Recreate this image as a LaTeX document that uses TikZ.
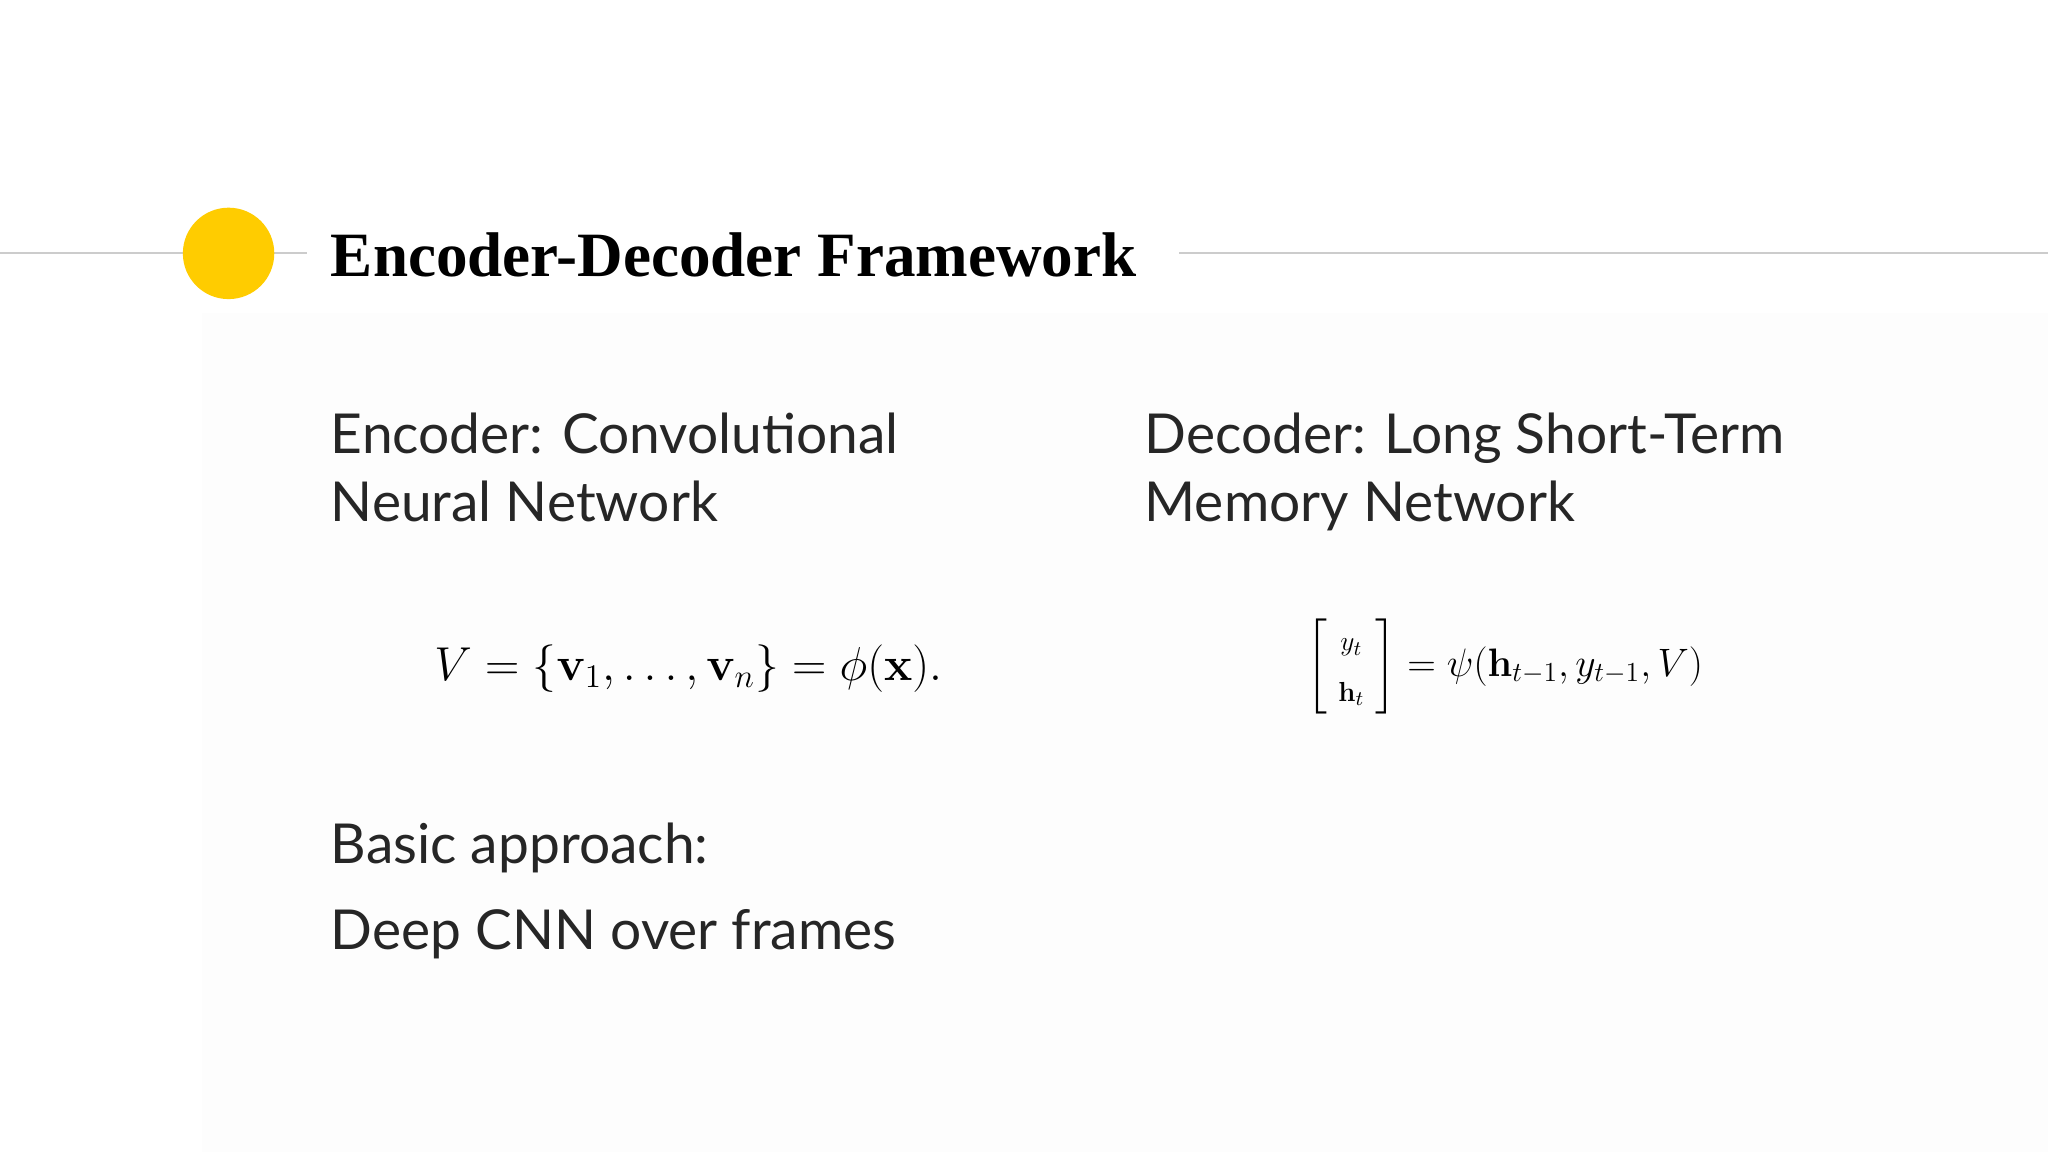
\documentclass[tikz,border=0pt]{standalone}
\usepackage{amsmath}
\usepackage[no-math]{fontspec}
\setmainfont{Lato}
\newfontfamily\titlefont{Liberation Serif}
\definecolor{myyellow}{HTML}{FFCC00}
\begin{document}
\begin{tikzpicture}[x=0.02cm,y=-0.02cm,
  body/.style={anchor=base west,inner sep=0,font=\fontsize{24}{28}\selectfont,text=black!85},
  eq/.style={inner sep=0}]
\useasboundingbox[fill=white] (0,0) rectangle (1568,882);
\fill[black!0.6] (155,240) rectangle (1568,882);
\draw[black!20,line width=0.8pt] (0,194) -- (235,194);
\draw[black!20,line width=0.8pt] (903,194) -- (1568,194);
\node[circle,fill=myyellow,minimum size=70*0.02cm,inner sep=0] (dot) at (175,194) {};
\node[anchor=base west,inner sep=0,font=\titlefont\bfseries\fontsize{27.5}{32}\selectfont] (title) at (253,212) {Encoder-Decoder Framework};
\node[body] (enc1) at (253,347) {Encoder: Convolutional};
\node[body] (enc2) at (253,399) {Neural Network};
\node[body] (dec1) at (876,347) {Decoder: Long Short-Term};
\node[body] (dec2) at (876,399) {Memory Network};
\node[eq] (eq1) at (527,512) {\fontsize{21.3}{25}\selectfont $V=\{\mathbf{v}_1,\ldots,\mathbf{v}_n\}=\phi(\mathbf{x}).$};
\node[eq] (eq2) at (1152,510) {\fontsize{18}{22}\selectfont $\left[\;\begin{matrix}\scriptstyle y_t\\ \scriptstyle\mathbf{h}_t\end{matrix}\;\right]=\psi(\mathbf{h}_{t-1},y_{t-1},V)$};
\node[body] (basic) at (253,661) {Basic approach:};
\node[body] (deep) at (253,727) {Deep CNN over frames};
\end{tikzpicture}
\end{document}
